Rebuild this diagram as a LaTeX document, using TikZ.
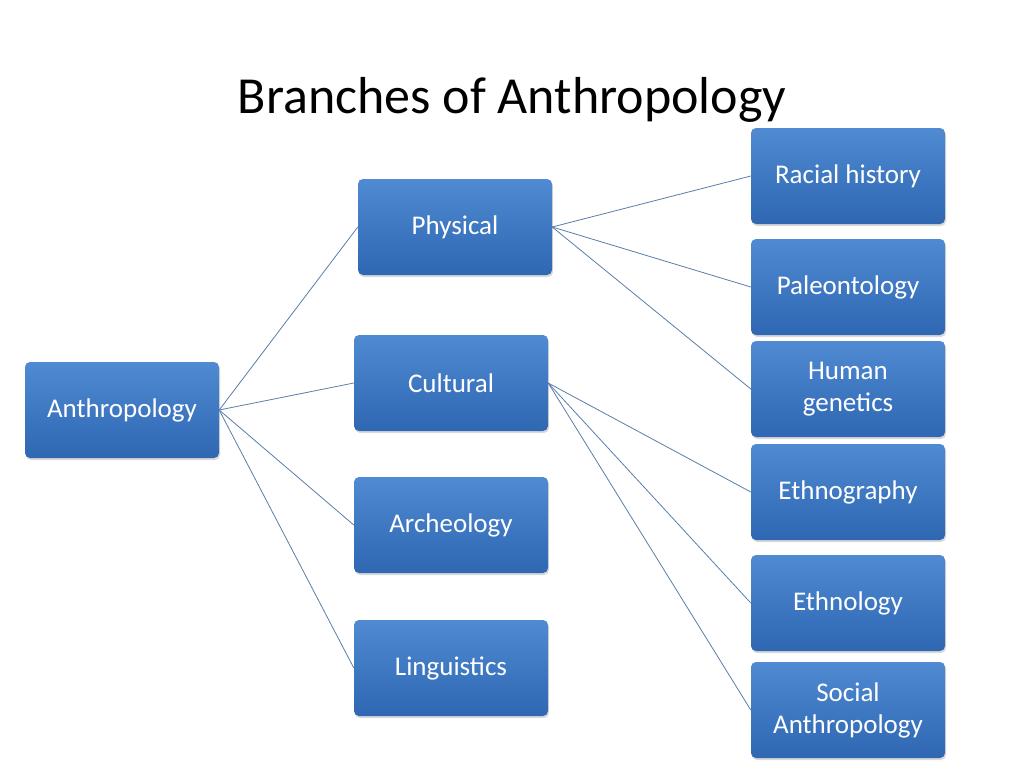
\documentclass[tikz,border=0pt]{standalone}
\usepackage{fontspec}
\setmainfont{Carlito}
\usetikzlibrary{shadows}
\definecolor{btop}{HTML}{4F8AD2}
\definecolor{bbot}{HTML}{2F67B2}
\definecolor{lnk}{HTML}{5A7DA8}
\tikzset{
 bx/.style={rectangle,rounded corners=5pt,minimum width=194pt,minimum height=96pt,
  top color=btop,bottom color=bbot,draw=none,text=white,align=center,
  font=\fontsize{27}{32}\selectfont,drop shadow={shadow xshift=1pt,shadow yshift=-2pt,opacity=0.3}},
 ln/.style={draw=lnk,line width=0.8pt}
}
\begin{document}
\begin{tikzpicture}[x=1pt,y=-1pt]
\useasboundingbox (0,0) rectangle (1024,768);
\node[font=\fontsize{52}{60}\selectfont] (t) at (512,100) {Branches of Anthropology};
\node[bx] (a) at (122,410) {Anthropology};
\node[bx] (p) at (455,227) {Physical};
\node[bx] (c) at (451,383) {Cultural};
\node[bx] (ar) at (451,525) {Archeology};
\node[bx] (li) at (451,668) {Linguistics};
\node[bx] (r1) at (848,176) {Racial history};
\node[bx] (r2) at (848,287) {Paleontology};
\node[bx] (r3) at (848,389) {Human\\genetics};
\node[bx] (r4) at (848,492) {Ethnography};
\node[bx] (r5) at (848,603) {Ethnology};
\node[bx] (r6) at (848,710) {Social\\Anthropology};
\foreach \n in {p,c,ar,li} \draw[ln] (a.east) -- (\n.west);
\foreach \n in {r1,r2,r3} \draw[ln] (p.east) -- (\n.west);
\foreach \n in {r4,r5,r6} \draw[ln] (c.east) -- (\n.west);
\end{tikzpicture}
\end{document}
